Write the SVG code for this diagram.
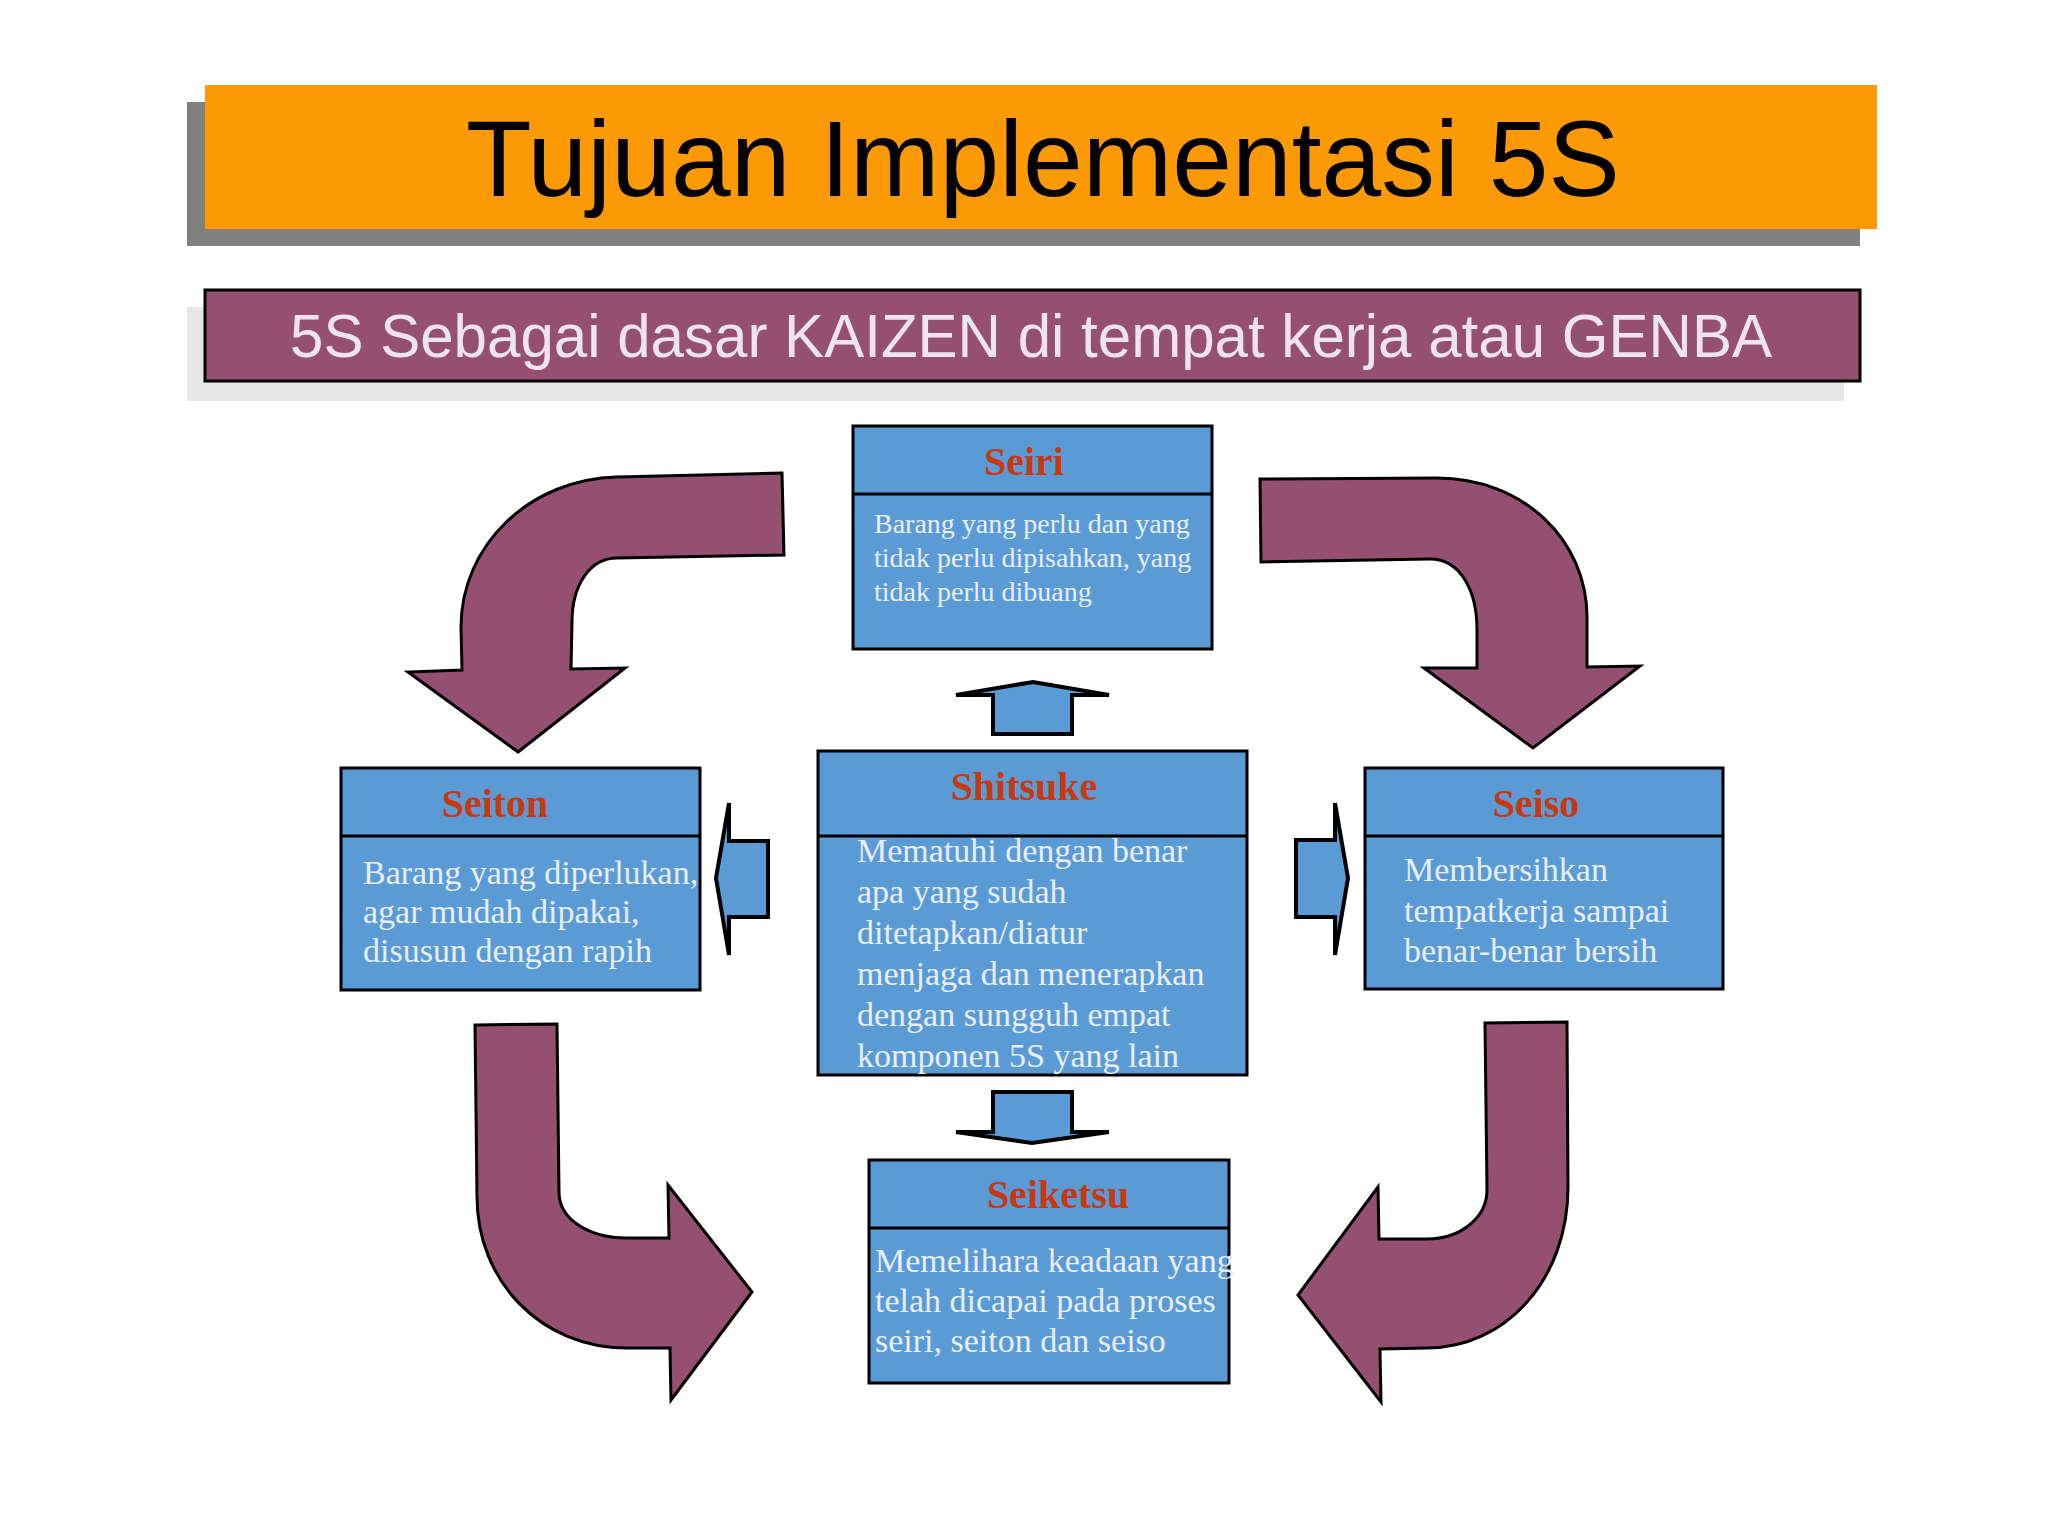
<svg xmlns="http://www.w3.org/2000/svg" width="2048" height="1536" viewBox="0 0 2048 1536">
<style>
.box{fill:#5B9BD5;stroke:#000;stroke-width:3}
.div{stroke:#000;stroke-width:3}
.ttl{font-family:"Liberation Serif",serif;font-weight:bold;font-size:40px;fill:#C8380F;text-anchor:middle}
.body{font-family:"Liberation Serif",serif;font-size:34px;fill:#E8EEF6}
.big{fill:#944F71;stroke:#000;stroke-width:3;stroke-linejoin:miter}
.small{fill:#5B9BD5;stroke:#000;stroke-width:4}
</style>
<rect width="2048" height="1536" fill="#FFFFFF"/>
<g id="title">
<rect x="187" y="102" width="1673" height="144" fill="#808080"/>
<rect x="205" y="85" width="1672" height="144" fill="#FB9A04"/>
<text x="1043" y="196" font-family="Liberation Sans, sans-serif" font-size="108" fill="#000" text-anchor="middle" textLength="1154" lengthAdjust="spacingAndGlyphs">Tujuan Implementasi 5S</text>
</g>
<g id="subtitle">
<rect x="187" y="307" width="1657" height="94" fill="#E6E6E6"/>
<rect x="205" y="290" width="1655" height="91" fill="#944F71" stroke="#000" stroke-width="3"/>
<text x="1031" y="357" font-family="Liberation Sans, sans-serif" font-size="62" fill="#EEE4EF" text-anchor="middle" textLength="1482" lengthAdjust="spacingAndGlyphs">5S Sebagai dasar KAIZEN di tempat kerja atau GENBA</text>
</g>
<g id="connectors">
<path class="big" d="M782,473 L617,477 C530,479 461,545 461,627 L462,670 L408,672 L518,752 L625,668 L571,669 L572,622 C572,585 590,558 617,558 L784,555 Z"/>
<path class="big" d="M1260,479 L1437,478 C1523,478 1587,540 1587,617 L1587,667 L1640,666 L1533,748 L1424,668 L1477,668 L1477,630 C1477,590 1460,559 1430,559 L1261,562 Z"/>
<path class="big" d="M475,1025 L557,1024 L559,1192 C559,1220 590,1238 627,1238 L669,1238 L668,1185 L752,1292 L671,1400 L670,1348 L627,1348 C540,1348 477,1280 477,1197 Z"/>
<path class="big" d="M1485,1023 L1567,1022 L1568,1187 C1568,1280 1505,1348 1427,1348 L1380,1349 L1381,1402 L1298,1295 L1378,1187 L1379,1239 L1427,1239 C1460,1239 1487,1218 1487,1190 Z"/>
<path class="small" d="M993,734 L993,695 L956,695 L1033,682 L1109,695 L1072,695 L1072,734 Z"/>
<path class="small" d="M993,1092 L993,1132 L956,1132 L1032,1143 L1109,1132 L1072,1132 L1072,1092 Z"/>
<path class="small" d="M768,841 L729,841 L729,803 L716,878 L729,955 L729,917 L768,917 Z"/>
<path class="small" d="M1296,840 L1335,840 L1335,803 L1348,878 L1335,955 L1335,917 L1296,917 Z"/>
</g>
<g id="seiri">
<rect class="box" x="853" y="426" width="359" height="223"/>
<line class="div" x1="853" y1="494" x2="1212" y2="494"/>
<text class="ttl" x="1024" y="475">Seiri</text>
<text class="body" font-size="28" style="font-size:28px"><tspan x="874" y="533">Barang yang perlu dan yang</tspan><tspan x="874" y="567">tidak perlu dipisahkan, yang</tspan><tspan x="874" y="601">tidak perlu dibuang</tspan></text>
</g>
<g id="seiton">
<rect class="box" x="341" y="768" width="359" height="222"/>
<line class="div" x1="341" y1="836" x2="700" y2="836"/>
<text class="ttl" x="495" y="817">Seiton</text>
<text class="body"><tspan x="363" y="884">Barang yang diperlukan,</tspan><tspan x="363" y="923">agar mudah dipakai,</tspan><tspan x="363" y="962">disusun dengan rapih</tspan></text>
</g>
<g id="shitsuke">
<rect class="box" x="818" y="751" width="429" height="324"/>
<line class="div" x1="818" y1="836" x2="1247" y2="836"/>
<text class="ttl" x="1024" y="800">Shitsuke</text>
<text class="body"><tspan x="857" y="862">Mematuhi dengan benar</tspan><tspan x="857" y="903">apa yang sudah</tspan><tspan x="857" y="944">ditetapkan/diatur</tspan><tspan x="857" y="985">menjaga dan menerapkan</tspan><tspan x="857" y="1026">dengan sungguh empat</tspan><tspan x="857" y="1067">komponen 5S yang lain</tspan></text>
</g>
<g id="seiso">
<rect class="box" x="1365" y="768" width="358" height="221"/>
<line class="div" x1="1365" y1="836" x2="1723" y2="836"/>
<text class="ttl" x="1536" y="817">Seiso</text>
<text class="body"><tspan x="1404" y="881">Membersihkan</tspan><tspan x="1404" y="922">tempatkerja sampai</tspan><tspan x="1404" y="962">benar-benar bersih</tspan></text>
</g>
<g id="seiketsu">
<rect class="box" x="869" y="1160" width="360" height="223"/>
<line class="div" x1="869" y1="1228" x2="1229" y2="1228"/>
<text class="ttl" x="1058" y="1208">Seiketsu</text>
<text class="body"><tspan x="875" y="1272">Memelihara keadaan yang</tspan><tspan x="875" y="1312">telah dicapai pada proses</tspan><tspan x="875" y="1352">seiri, seiton dan seiso</tspan></text>
</g>
</svg>
